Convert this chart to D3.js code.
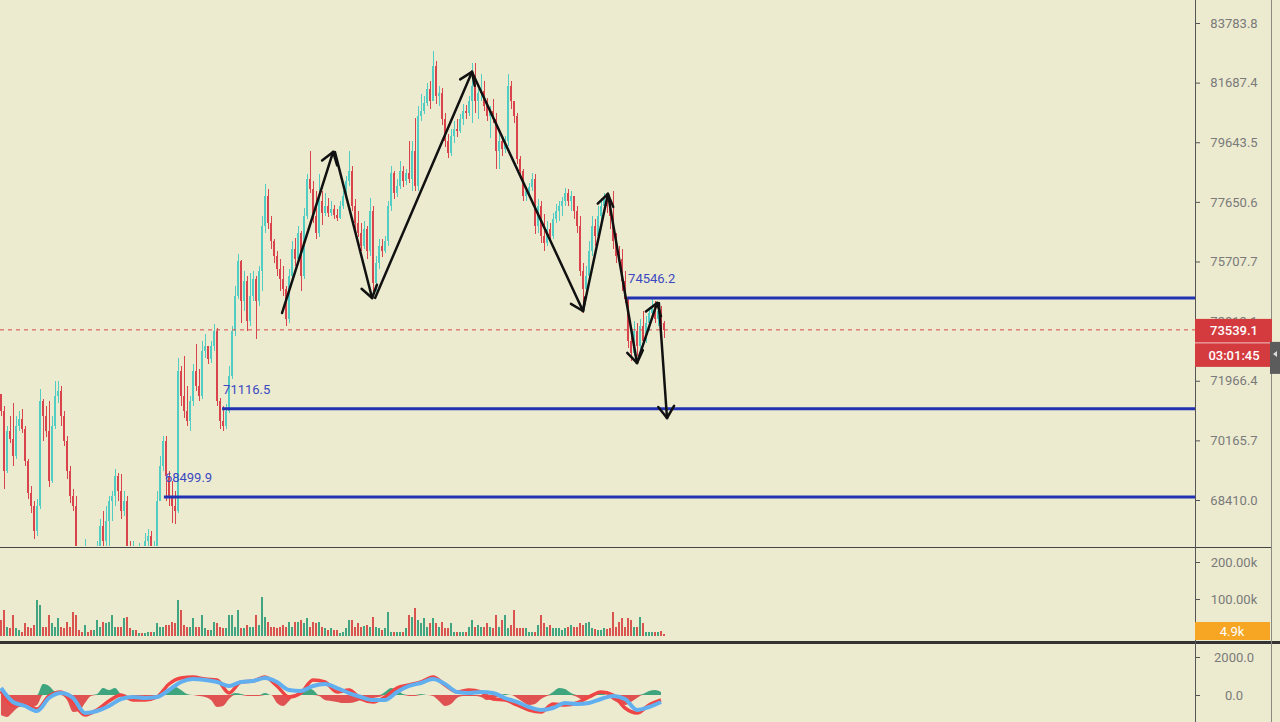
<!DOCTYPE html>
<html>
<head>
<meta charset="utf-8">
<script src="https://cdn.jsdelivr.net/npm/d3@7"></script>
<style>
    body { margin: 0; background: #ecebd0; }
    svg { display: block; font-family: Roboto, "Noto Sans", sans-serif; }
</style>
</head>
<body>
<div id="chart"></div>
<script>
// candles (open of each candle = previous close)
const startOpen = 71560;
const closes = [
    71050, 69260, 70450, 70210, 69700, 70600, 70810, 70510, 69550, 68610,
    68240, 67515, 68240, 71350, 70900, 70450, 68970, 70600, 71500, 71650,
    70900, 70150, 69260, 68530, 68240, 67090, 66660, 66380, 66800, 66520,
    66240, 66520, 66940, 67660, 67230, 67800, 68380, 68530, 69110, 68670,
    68090, 68380, 67090, 66660, 67000, 66660, 66800, 66660, 67230, 67370,
    66940, 67090, 68380, 69410, 70150, 69110, 68530, 68240, 68090, 72270,
    71500, 71050, 70750, 71350, 72270, 71810, 71500, 72880, 73040, 72640,
    73040, 73510, 71350, 70750, 70600, 71050, 72110, 73510, 74610, 75730,
    74450, 75085, 73820, 74610, 75150, 74450, 75400, 76860, 77850, 76960,
    76370, 75890, 75470, 75150, 74830, 73880, 75240, 76110, 75790, 76630,
    75240, 77190, 78410, 78080, 77190, 76630, 77680, 77290, 77520, 77290,
    77420, 77220, 77120, 77520, 77850, 78345, 78680, 77520, 76960, 76630,
    76210, 76760, 76050, 77350, 75020, 75660, 76210, 76050, 76370, 77520,
    78610, 77950, 78180, 78680, 78345, 78610, 78410, 79350, 78180, 80540,
    80710, 80990, 81470, 81055, 82270, 81230, 81330, 80440, 79690, 79280,
    79860, 80100, 80030, 80440, 80710, 80640, 81055, 81570, 81055, 81330,
    81400, 80880, 80540, 80710, 80440, 79350, 79690, 79420, 79690, 81570,
    81055, 80540, 79080, 78680, 77850, 78010, 78150, 78410, 76860, 77520,
    76530, 76310, 76760, 76530, 77090, 77350, 77520, 77680, 77950, 77680,
    77850, 77350, 76860, 75400, 74830, 75240, 76050, 76860, 76530, 77190,
    77520, 77750, 77520, 77190, 76370, 75890, 75790, 75085, 74510, 73190,
    72820, 73510, 73040, 73660, 73190, 73760, 74070, 74290, 73880, 74130,
    73760, 73539.1
];
const highs = [
    71560, 71200, 70600, 70900, 71290, 70900, 71050, 71110, 70600, 69610,
    68820, 68380, 68440, 71710, 71410, 71200, 71350, 70900, 71960, 71960,
    71810, 71050, 70300, 69410, 68730, 68530, 67090, 66890, 67290, 66940,
    66720, 66800, 67230, 67860, 68090, 68240, 68530, 68670, 69320, 69200,
    69170, 68670, 68530, 67230, 67230, 67090, 67170, 67000, 67460, 67570,
    67515, 67230, 68670, 69700, 70300, 70300, 69260, 68970, 68670, 72670,
    72420, 72730, 71810, 71500, 72480, 73100, 72330, 73190, 73410, 73040,
    73190, 73720, 73600, 71440, 71200, 71260, 72420, 73660, 74930, 75950,
    75760, 75400, 75240, 75340, 75400, 75240, 75570, 77190, 78250, 78080,
    77190, 76440, 76050, 75790, 75570, 74930, 75470, 76370, 76470, 76860,
    76700, 77450, 78580, 79350, 78345, 78010, 78580, 78010, 77950, 77780,
    77680, 77550, 77420, 77680, 78010, 78510, 79350, 78850, 77750, 77350,
    76960, 77025, 76860, 77780, 77520, 75890, 76440, 76440, 76530, 77680,
    78850, 78680, 78410, 79010, 78850, 78750, 79690, 79690, 80470, 80880,
    81300, 81230, 81680, 81750, 82800, 82445, 81570, 81500, 80640, 79930,
    80100, 80370, 80440, 80610, 80950, 80920, 81230, 82375, 82375, 81470,
    81990, 81750, 81160, 80880, 81120, 80640, 79930, 79860, 79860, 81990,
    81750, 81055, 80640, 79180, 78750, 78150, 78280, 78610, 78580, 77750,
    77680, 77250, 77025, 76960, 77290, 77580, 77680, 77820, 78110, 78080,
    78010, 77850, 77520, 77190, 75660, 75570, 76370, 77190, 77090, 77520,
    77780, 77950, 77850, 77680, 78010, 76630, 76210, 76110, 75400, 74570,
    73350, 73820, 73760, 73880, 74130, 73980, 74260, 74550, 74450, 74350,
    74290, 73820
];
const lows = [
    70900, 68730, 69200, 70090, 69410, 69610, 70450, 70390, 69410, 68440,
    68030, 67290, 67370, 68150, 70150, 70270, 68790, 68910, 70510, 71290,
    70600, 70000, 69020, 68320, 68090, 66660, 66240, 65960, 66240, 66100,
    65820, 65960, 66380, 66800, 66940, 67090, 67090, 67800, 68240, 68380,
    67860, 67950, 66800, 66240, 66380, 66240, 66380, 66240, 66520, 67090,
    66660, 66660, 67000, 68380, 69260, 68380, 68240, 67740, 67710, 68030,
    71200, 70840, 70600, 70450, 71200, 71650, 71350, 71410, 72670, 72480,
    72510, 72880, 71200, 70510, 70450, 70510, 70990, 72020, 73350, 74510,
    73760, 74130, 73510, 73660, 74450, 73260, 74290, 74770, 76630, 76760,
    76110, 75660, 75240, 74770, 74610, 73660, 73760, 75085, 75570, 75660,
    74770, 75150, 77090, 77950, 76960, 76440, 76500, 76890, 77190, 77160,
    77190, 77090, 77025, 77090, 77420, 77750, 78180, 77350, 76760, 76500,
    76050, 76110, 75790, 75890, 74770, 74770, 75470, 75850, 75980, 76210,
    77350, 77750, 77820, 78080, 78150, 78210, 78280, 78010, 78010, 78010,
    80370, 80610, 80880, 80780, 81055, 80950, 80880, 80230, 79490, 79110,
    79180, 79620, 79820, 79960, 80230, 80440, 80540, 80300, 80640, 80440,
    81055, 80710, 80370, 79790, 80300, 78750, 78750, 79180, 79280, 79520,
    80780, 80300, 78910, 78410, 77680, 77680, 77850, 78010, 76600, 76630,
    76310, 76050, 76210, 76370, 76440, 76960, 77025, 77190, 77520, 77520,
    77350, 77090, 76630, 75240, 74070, 74700, 75085, 75890, 76210, 76440,
    77025, 77350, 77290, 76760, 76110, 75660, 75660, 74770, 74390, 72970,
    72570, 72730, 72730, 72940, 73040, 73130, 73510, 73880, 73760, 73660,
    73260, 73290
];
// volume per candle, in thousands
const volumesK = [
    43, 70, 25, 21, 57, 21, 16, 12, 34, 25,
    21, 30, 97, 84, 25, 25, 57, 34, 25, 48,
    25, 21, 39, 25, 66, 57, 16, 12, 30, 12,
    16, 16, 43, 25, 39, 34, 39, 57, 25, 25,
    25, 48, 52, 21, 16, 16, 7, 7, 7, 12,
    12, 12, 34, 25, 25, 30, 30, 39, 34, 97,
    70, 30, 25, 25, 48, 25, 25, 57, 21, 16,
    16, 39, 34, 25, 21, 21, 57, 57, 25, 70,
    21, 21, 30, 25, 25, 57, 30, 106, 52, 39,
    25, 25, 21, 25, 30, 25, 39, 25, 39, 39,
    43, 34, 48, 25, 39, 34, 39, 25, 21, 16,
    21, 16, 16, 9, 12, 21, 43, 43, 25, 34,
    25, 27, 30, 25, 52, 25, 21, 16, 21, 66,
    12, 12, 12, 12, 12, 21, 57, 52, 75, 43,
    34, 48, 25, 34, 48, 34, 25, 39, 21, 21,
    34, 12, 12, 12, 12, 12, 25, 43, 25, 30,
    25, 25, 34, 25, 21, 57, 25, 43, 57, 21,
    30, 70, 21, 21, 21, 21, 12, 12, 12, 30,
    57, 34, 25, 30, 21, 21, 21, 16, 21, 25,
    30, 25, 25, 34, 30, 34, 39, 21, 18, 16,
    16, 21, 18, 21, 66, 25, 39, 48, 25, 48,
    43, 25, 25, 52, 34, 12, 12, 12, 12, 12,
    14, 4.9
];
// MACD lines, one value every 4 candles
const difValues = [
    211, -526, -526, -737, -53, 158, -421, -1053, -789, -316,
    0, -263, -263, -105, 579, 895, 947, 842, 789, 105,
    684, 737, 947, 474, -105, 105, 789, 684, 158, 263,
    -211, -368, -105, 368, 526, 684, 947, 526, 158, 263,
    158, -211, -263, -526, -789, -895, -474, -526, -421, -105,
    158, 0, -684, -947, -526, -263
];
const deaValues = [
    368, -368, -579, -842, -158, 105, -158, -947, -842, -579,
    -211, -105, -158, -105, 263, 684, 842, 789, 684, 474,
    684, 737, 895, 684, 263, 211, 474, 579, 368, 105,
    -105, -263, -263, 158, 474, 632, 842, 579, 158, 105,
    158, 105, -158, -368, -632, -789, -684, -421, -474, -421,
    -211, -53, -211, -789, -632, -368
];
// MACD histogram, one value every 2 candles
const histValues = [
    -1053, -1158, -895, -632, -579, -632, -526, 579, 474, 158,
    0, -263, -895, -842, -421, -53, 53, 368, 263, 368,
    53, 0, -53, -158, -263, -211, -105, 105, 316, 421,
    263, 53, 0, -53, -105, -263, -632, -579, -211, 105,
    53, -53, -53, -53, 105, 0, -421, -579, -316, 0,
    263, 368, 263, -53, -263, -316, -368, -421, -421, -368,
    -263, -211, -158, -105, 158, 368, 263, 53, -53, -53,
    53, 0, -53, -316, -579, -474, -158, -53, -53, -53,
    -105, -263, -211, -53, 53, 0, -158, -368, -526, -474,
    -211, -53, 158, 368, 316, 105, -105, -263, -105, 53,
    105, 0, -263, -421, -526, -368, -158, 53, 211, 263,
    158
];

const priceTicks = [83783.8, 81687.4, 79643.5, 77650.6, 75707.7, 73813.1, 71966.4, 70165.7, 68410.0];
const volumeTicks = [200, 100];
const macdTicks = [2000, 0];

// horizontal levels: price and candle index where the line starts
const levelValues = [74546.2, 71116.5, 68499.9];
const levelStarts = [208.7, 73.7, 54.3];

// drawn arrows as [candle index, price] pairs
const arrowSegments = [
    [[93.7, 74070], [110.7, 79317]],
    [[111.3, 79317], [123.7, 74544]],
    [[124.7, 74544], [157, 82060]],
    [[157, 82060], [194, 74133]],
    [[194, 74133], [202.3, 77914]],
    [[202.3, 77914], [212, 72512]],
    [[212, 72512], [218.7, 74386]],
    [[219.3, 74386], [222, 70836]]
];

const countdown = "03:01:45";

const width = 1280;
const height = 722;
const axisX = 1195;
const upColor = "#52cdc4";
const downColor = "#d9434b";
const axisText = "#7a7a7a";

const x = d3.scaleLinear().domain([0, closes.length - 1]).range([1, 1 + 3 * (closes.length - 1)]);
const y = d3.scaleLog().domain([68410, 83783.8]).range([500, 23]);
const yVol = d3.scaleLinear().domain([0, 100]).range([636, 599]);
const yMacd = d3.scaleLinear().domain([0, 2000]).range([695, 657]);

const candles = closes.map((c, i) => ({
    i: i,
    o: i === 0 ? startOpen : closes[i - 1],
    h: highs[i],
    l: lows[i],
    c: c,
    v: volumesK[i]
}));

const svg = d3.select('#chart')
    .append('svg')
    .attr('width', width)
    .attr('height', height);

svg.append('rect').attr('width', width).attr('height', height).attr('fill', '#ecebd0');

const defs = svg.append('defs');
const addClip = (id, y0, y1) => {
    defs.append('clipPath').attr('id', id)
        .append('rect').attr('x', 0).attr('y', y0).attr('width', axisX).attr('height', y1 - y0);
};
addClip('clip-main', 0, 546);
addClip('clip-vol', 548, 640);
addClip('clip-macd', 644, 722);

/* main price pane */
const main = svg.append('g').attr('clip-path', 'url(#clip-main)');

const candleG = main.append('g').attr('shape-rendering', 'crispEdges');
candleG.selectAll('.wick')
    .data(candles)
    .enter()
    .append('rect')
    .attr('x', d => x(d.i))
    .attr('width', 1)
    .attr('y', d => y(d.h))
    .attr('height', d => Math.max(1, y(d.l) - y(d.h)))
    .attr('fill', d => d.c >= d.o ? upColor : downColor);

candleG.selectAll('.body')
    .data(candles)
    .enter()
    .append('rect')
    .attr('x', d => x(d.i) - 1)
    .attr('width', 2)
    .attr('y', d => y(Math.max(d.o, d.c)))
    .attr('height', d => Math.max(1, Math.abs(y(d.o) - y(d.c))))
    .attr('fill', d => d.c >= d.o ? upColor : downColor);

// current price dashed line
const lastClose = closes[closes.length - 1];
main.append('line')
    .attr('x1', 0).attr('x2', axisX)
    .attr('y1', y(lastClose)).attr('y2', y(lastClose))
    .attr('stroke', '#d44a4a')
    .attr('stroke-width', 1)
    .attr('stroke-dasharray', '4,4');

// levels
levelValues.forEach((v, k) => {
    main.append('line')
        .attr('x1', x(levelStarts[k])).attr('x2', axisX)
        .attr('y1', y(v)).attr('y2', y(v))
        .attr('stroke', '#2232b2')
        .attr('stroke-width', 3);
    main.append('text')
        .attr('x', x(levelStarts[k]) + 1)
        .attr('y', y(v) - 15)
        .attr('fill', '#3a48c2')
        .attr('font-size', 13)
        .text(v.toFixed(1));
});

// arrows
const arrowG = main.append('g')
    .attr('stroke', '#111')
    .attr('stroke-width', 2.5)
    .attr('stroke-linecap', 'round')
    .attr('fill', 'none');
arrowSegments.forEach(seg => {
    const x0 = x(seg[0][0]), y0 = y(seg[0][1]);
    const x1 = x(seg[1][0]), y1 = y(seg[1][1]);
    arrowG.append('line').attr('x1', x0).attr('y1', y0).attr('x2', x1).attr('y2', y1);
    const ang = Math.atan2(y0 - y1, x0 - x1);
    const len = 14;
    [-0.6, 0.6].forEach(da => {
        arrowG.append('line')
            .attr('x1', x1).attr('y1', y1)
            .attr('x2', x1 + len * Math.cos(ang + da))
            .attr('y2', y1 + len * Math.sin(ang + da));
    });
});

/* volume pane */
const volG = svg.append('g').attr('clip-path', 'url(#clip-vol)').attr('shape-rendering', 'crispEdges');
volG.selectAll('rect')
    .data(candles)
    .enter()
    .append('rect')
    .attr('x', d => x(d.i) - 1)
    .attr('width', 2)
    .attr('y', d => yVol(d.v))
    .attr('height', d => Math.max(1, yVol(0) - yVol(d.v)))
    .attr('fill', d => d.c >= d.o ? '#41a582' : '#d9534f');

/* MACD pane */
const macdG = svg.append('g').attr('clip-path', 'url(#clip-macd)');
const histArea = d3.area()
    .x((d, k) => x(k * 2))
    .y0(yMacd(0))
    .curve(d3.curveMonotoneX);
macdG.append('path')
    .datum(histValues)
    .attr('d', histArea.y1(d => yMacd(Math.max(0, d))))
    .attr('fill', '#3fa57f');
macdG.append('path')
    .datum(histValues)
    .attr('d', histArea.y1(d => yMacd(Math.min(0, d))))
    .attr('fill', '#e05252');

const macdLine = d3.line()
    .x((d, k) => x(k * 4))
    .y(d => yMacd(d))
    .curve(d3.curveMonotoneX);
macdG.append('path')
    .datum(difValues)
    .attr('d', macdLine)
    .attr('fill', 'none')
    .attr('stroke', '#ef4545')
    .attr('stroke-width', 3.5);
macdG.append('path')
    .datum(deaValues)
    .attr('d', macdLine)
    .attr('fill', 'none')
    .attr('stroke', '#62aff0')
    .attr('stroke-width', 4);

/* separators and right axis */
svg.append('line')
    .attr('x1', 0).attr('x2', 1271).attr('y1', 547.5).attr('y2', 547.5)
    .attr('stroke', '#444').attr('stroke-width', 1);
svg.append('rect')
    .attr('x', 0).attr('y', 641).attr('width', width).attr('height', 3)
    .attr('fill', '#333');
svg.append('line')
    .attr('x1', axisX + 0.5).attr('x2', axisX + 0.5).attr('y1', 0).attr('y2', height)
    .attr('stroke', '#555').attr('stroke-width', 1);
svg.append('line')
    .attr('x1', 1271.5).attr('x2', 1271.5).attr('y1', 0).attr('y2', height)
    .attr('stroke', '#8a8a80').attr('stroke-width', 1);

const styleAxis = g => {
    g.select('.domain').remove();
    g.selectAll('.tick line').attr('stroke', '#555');
    g.selectAll('.tick text')
        .attr('x', 39)
        .attr('text-anchor', 'middle')
        .attr('fill', axisText)
        .attr('font-size', 13)
        .attr('font-family', 'Roboto, "Noto Sans", sans-serif');
};

svg.append('g')
    .attr('transform', `translate(${axisX},0)`)
    .call(d3.axisRight(y).tickValues(priceTicks).tickSize(5).tickFormat(d3.format('.1f')))
    .call(styleAxis);
svg.append('g')
    .attr('transform', `translate(${axisX},0)`)
    .call(d3.axisRight(yVol).tickValues(volumeTicks).tickSize(5).tickFormat(d => d.toFixed(2) + 'k'))
    .call(styleAxis);
svg.append('g')
    .attr('transform', `translate(${axisX},0)`)
    .call(d3.axisRight(yMacd).tickValues(macdTicks).tickSize(5).tickFormat(d3.format('.1f')))
    .call(styleAxis);

// current price label
const py = y(lastClose);
svg.append('rect')
    .attr('x', axisX).attr('y', py - 11).attr('width', 77).attr('height', 48)
    .attr('fill', '#d43b3f');
svg.append('line')
    .attr('x1', axisX).attr('x2', axisX + 77).attr('y1', py + 13).attr('y2', py + 13)
    .attr('stroke', '#f2c4c4').attr('stroke-width', 1);
svg.append('text')
    .attr('x', axisX + 39).attr('y', py + 5)
    .attr('text-anchor', 'middle').attr('fill', '#fff')
    .attr('font-size', 13).attr('font-weight', 500)
    .text(lastClose.toFixed(1));
svg.append('text')
    .attr('x', axisX + 39).attr('y', py + 30)
    .attr('text-anchor', 'middle').attr('fill', '#fff')
    .attr('font-size', 13).attr('font-weight', 500)
    .text(countdown);

// right side tab
svg.append('rect')
    .attr('x', 1270).attr('y', py + 12).attr('width', 10).attr('height', 32)
    .attr('fill', '#5c5c5c');
svg.append('path')
    .attr('d', `M1273,${py + 24} L1277,${py + 21} L1277,${py + 27} Z`)
    .attr('fill', '#ddd');

// last volume label
const lastVol = volumesK[volumesK.length - 1];
const vy = Math.min(yVol(lastVol) - 9, 622);
svg.append('rect')
    .attr('x', axisX).attr('y', vy).attr('width', 75).attr('height', 18)
    .attr('fill', '#f6a623');
svg.append('text')
    .attr('x', axisX + 37).attr('y', vy + 14)
    .attr('text-anchor', 'middle').attr('fill', '#fff')
    .attr('font-size', 13)
    .text(lastVol.toFixed(1) + 'k');
</script>
</body>
</html>
